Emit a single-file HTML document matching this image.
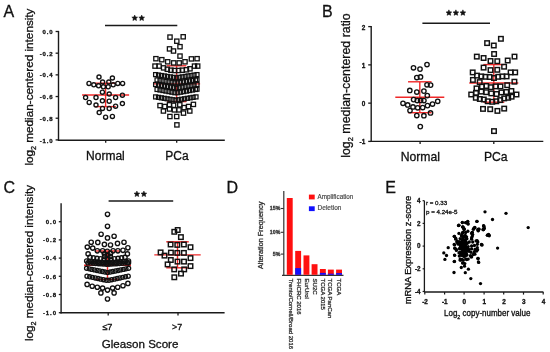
<!DOCTYPE html>
<html><head><meta charset="utf-8"><style>
html,body{margin:0;padding:0;background:#fff;}
svg{display:block;will-change:transform;filter:blur(0.3px);}
text{font-family:"Liberation Sans", sans-serif;}
</style></head><body>
<svg width="550" height="352" viewBox="0 0 550 352">
<rect width="550" height="352" fill="#fff"/>
<text x="3.40" y="16.60" font-size="16" text-anchor="start" font-weight="normal" fill="#111" stroke="#111" stroke-width="0.3">A</text>
<text x="322.00" y="16.60" font-size="16" text-anchor="start" font-weight="normal" fill="#111" stroke="#111" stroke-width="0.3">B</text>
<text x="3.60" y="192.50" font-size="16" text-anchor="start" font-weight="normal" fill="#111" stroke="#111" stroke-width="0.3">C</text>
<text x="226.60" y="192.50" font-size="16" text-anchor="start" font-weight="normal" fill="#111" stroke="#111" stroke-width="0.3">D</text>
<text x="385.20" y="192.50" font-size="16" text-anchor="start" font-weight="normal" fill="#111" stroke="#111" stroke-width="0.3">E</text>
<line x1="58.50" y1="30.90" x2="58.50" y2="140.80" stroke="#1a1a1a" stroke-width="1.4"/>
<line x1="57.90" y1="140.20" x2="224.80" y2="140.20" stroke="#1a1a1a" stroke-width="1.4"/>
<line x1="55.60" y1="31.50" x2="58.50" y2="31.50" stroke="#1a1a1a" stroke-width="1.3"/>
<text x="53.60" y="34.10" font-size="6" text-anchor="end" font-weight="bold" fill="#111" letter-spacing="0.9" stroke="#111" stroke-width="0.3">0.0</text>
<line x1="55.60" y1="53.18" x2="58.50" y2="53.18" stroke="#1a1a1a" stroke-width="1.3"/>
<text x="53.60" y="55.78" font-size="6" text-anchor="end" font-weight="bold" fill="#111" letter-spacing="0.9" stroke="#111" stroke-width="0.3">-0.2</text>
<line x1="55.60" y1="74.86" x2="58.50" y2="74.86" stroke="#1a1a1a" stroke-width="1.3"/>
<text x="53.60" y="77.46" font-size="6" text-anchor="end" font-weight="bold" fill="#111" letter-spacing="0.9" stroke="#111" stroke-width="0.3">-0.4</text>
<line x1="55.60" y1="96.54" x2="58.50" y2="96.54" stroke="#1a1a1a" stroke-width="1.3"/>
<text x="53.60" y="99.14" font-size="6" text-anchor="end" font-weight="bold" fill="#111" letter-spacing="0.9" stroke="#111" stroke-width="0.3">-0.6</text>
<line x1="55.60" y1="118.22" x2="58.50" y2="118.22" stroke="#1a1a1a" stroke-width="1.3"/>
<text x="53.60" y="120.82" font-size="6" text-anchor="end" font-weight="bold" fill="#111" letter-spacing="0.9" stroke="#111" stroke-width="0.3">-0.8</text>
<line x1="55.60" y1="139.90" x2="58.50" y2="139.90" stroke="#1a1a1a" stroke-width="1.3"/>
<text x="53.60" y="142.50" font-size="6" text-anchor="end" font-weight="bold" fill="#111" letter-spacing="0.9" stroke="#111" stroke-width="0.3">-1.0</text>
<line x1="105.70" y1="140.20" x2="105.70" y2="142.80" stroke="#1a1a1a" stroke-width="1.3"/>
<line x1="176.70" y1="140.20" x2="176.70" y2="142.80" stroke="#1a1a1a" stroke-width="1.3"/>
<text x="105.40" y="159.60" font-size="12" text-anchor="middle" font-weight="normal" fill="#111" stroke="#111" stroke-width="0.3">Normal</text>
<text x="176.90" y="159.60" font-size="12" text-anchor="middle" font-weight="normal" fill="#111" stroke="#111" stroke-width="0.3">PCa</text>
<line x1="105.00" y1="25.50" x2="177.30" y2="25.50" stroke="#1a1a1a" stroke-width="1.5"/>
<polygon points="134.70,15.05 135.58,16.89 137.60,17.16 136.13,18.56 136.49,20.57 134.70,19.60 132.91,20.57 133.27,18.56 131.80,17.16 133.82,16.89" fill="#111" stroke="#111" stroke-width="0.5" stroke-linejoin="round"/>
<polygon points="141.70,15.05 142.58,16.89 144.60,17.16 143.13,18.56 143.49,20.57 141.70,19.60 139.91,20.57 140.27,18.56 138.80,17.16 140.82,16.89" fill="#111" stroke="#111" stroke-width="0.5" stroke-linejoin="round"/>
<text x="33.0" y="165.6" font-size="11.72" transform="rotate(-90 33.0 165.6)" fill="#111" stroke="#111" stroke-width="0.3">log<tspan font-size="7.2" dy="2.9">2</tspan><tspan dy="-2.9"> median-centered intensity</tspan></text>
<line x1="82.10" y1="95.00" x2="129.10" y2="95.00" stroke="#f02828" stroke-width="1.4"/>
<line x1="105.60" y1="83.20" x2="105.60" y2="106.60" stroke="#f02828" stroke-width="1.4"/>
<line x1="95.35" y1="83.20" x2="115.85" y2="83.20" stroke="#f02828" stroke-width="1.4"/>
<line x1="95.35" y1="106.60" x2="115.85" y2="106.60" stroke="#f02828" stroke-width="1.4"/>
<circle cx="99.00" cy="77.00" r="2.05" fill="none" stroke="#111" stroke-width="1.35"/>
<circle cx="112.40" cy="78.00" r="2.05" fill="none" stroke="#111" stroke-width="1.35"/>
<circle cx="89.00" cy="83.40" r="2.05" fill="none" stroke="#111" stroke-width="1.35"/>
<circle cx="93.80" cy="84.80" r="2.05" fill="none" stroke="#111" stroke-width="1.35"/>
<circle cx="98.60" cy="85.80" r="2.05" fill="none" stroke="#111" stroke-width="1.35"/>
<circle cx="102.60" cy="82.00" r="2.05" fill="none" stroke="#111" stroke-width="1.35"/>
<circle cx="103.40" cy="86.80" r="2.05" fill="none" stroke="#111" stroke-width="1.35"/>
<circle cx="108.80" cy="82.00" r="2.05" fill="none" stroke="#111" stroke-width="1.35"/>
<circle cx="108.20" cy="86.80" r="2.05" fill="none" stroke="#111" stroke-width="1.35"/>
<circle cx="113.20" cy="84.80" r="2.05" fill="none" stroke="#111" stroke-width="1.35"/>
<circle cx="117.80" cy="83.40" r="2.05" fill="none" stroke="#111" stroke-width="1.35"/>
<circle cx="122.60" cy="83.40" r="2.05" fill="none" stroke="#111" stroke-width="1.35"/>
<circle cx="102.40" cy="92.20" r="2.05" fill="none" stroke="#111" stroke-width="1.35"/>
<circle cx="109.20" cy="94.00" r="2.05" fill="none" stroke="#111" stroke-width="1.35"/>
<circle cx="122.40" cy="95.20" r="2.05" fill="none" stroke="#111" stroke-width="1.35"/>
<circle cx="85.60" cy="97.60" r="2.05" fill="none" stroke="#111" stroke-width="1.35"/>
<circle cx="96.00" cy="97.60" r="2.05" fill="none" stroke="#111" stroke-width="1.35"/>
<circle cx="115.60" cy="97.60" r="2.05" fill="none" stroke="#111" stroke-width="1.35"/>
<circle cx="89.20" cy="102.40" r="2.05" fill="none" stroke="#111" stroke-width="1.35"/>
<circle cx="102.40" cy="100.80" r="2.05" fill="none" stroke="#111" stroke-width="1.35"/>
<circle cx="109.20" cy="101.20" r="2.05" fill="none" stroke="#111" stroke-width="1.35"/>
<circle cx="122.40" cy="103.60" r="2.05" fill="none" stroke="#111" stroke-width="1.35"/>
<circle cx="96.00" cy="105.00" r="2.05" fill="none" stroke="#111" stroke-width="1.35"/>
<circle cx="115.60" cy="106.20" r="2.05" fill="none" stroke="#111" stroke-width="1.35"/>
<circle cx="102.50" cy="108.40" r="2.05" fill="none" stroke="#111" stroke-width="1.35"/>
<circle cx="109.20" cy="108.60" r="2.05" fill="none" stroke="#111" stroke-width="1.35"/>
<circle cx="99.20" cy="112.60" r="2.05" fill="none" stroke="#111" stroke-width="1.35"/>
<circle cx="105.60" cy="117.20" r="2.05" fill="none" stroke="#111" stroke-width="1.35"/>
<circle cx="112.40" cy="116.40" r="2.05" fill="none" stroke="#111" stroke-width="1.35"/>
<line x1="153.10" y1="83.90" x2="200.10" y2="83.90" stroke="#f02828" stroke-width="1.4"/>
<line x1="176.60" y1="65.80" x2="176.60" y2="101.60" stroke="#f02828" stroke-width="1.4"/>
<line x1="166.85" y1="65.80" x2="186.35" y2="65.80" stroke="#f02828" stroke-width="1.4"/>
<line x1="166.85" y1="101.60" x2="186.35" y2="101.60" stroke="#f02828" stroke-width="1.4"/>
<rect x="167.88" y="34.97" width="4.25" height="4.25" fill="none" stroke="#111" stroke-width="1.3"/>
<rect x="181.07" y="34.67" width="4.25" height="4.25" fill="none" stroke="#111" stroke-width="1.3"/>
<rect x="174.68" y="39.07" width="4.25" height="4.25" fill="none" stroke="#111" stroke-width="1.3"/>
<rect x="177.88" y="44.57" width="4.25" height="4.25" fill="none" stroke="#111" stroke-width="1.3"/>
<rect x="167.38" y="46.77" width="4.25" height="4.25" fill="none" stroke="#111" stroke-width="1.3"/>
<rect x="171.38" y="48.88" width="4.25" height="4.25" fill="none" stroke="#111" stroke-width="1.3"/>
<rect x="177.88" y="53.97" width="4.25" height="4.25" fill="none" stroke="#111" stroke-width="1.3"/>
<rect x="153.78" y="56.57" width="4.25" height="4.25" fill="none" stroke="#111" stroke-width="1.3"/>
<rect x="159.68" y="57.57" width="4.25" height="4.25" fill="none" stroke="#111" stroke-width="1.3"/>
<rect x="189.28" y="56.77" width="4.25" height="4.25" fill="none" stroke="#111" stroke-width="1.3"/>
<rect x="194.97" y="56.57" width="4.25" height="4.25" fill="none" stroke="#111" stroke-width="1.3"/>
<rect x="165.57" y="59.67" width="4.25" height="4.25" fill="none" stroke="#111" stroke-width="1.3"/>
<rect x="171.57" y="60.77" width="4.25" height="4.25" fill="none" stroke="#111" stroke-width="1.3"/>
<rect x="177.07" y="60.77" width="4.25" height="4.25" fill="none" stroke="#111" stroke-width="1.3"/>
<rect x="182.88" y="59.67" width="4.25" height="4.25" fill="none" stroke="#111" stroke-width="1.3"/>
<rect x="152.88" y="63.97" width="4.25" height="4.25" fill="none" stroke="#111" stroke-width="1.3"/>
<rect x="156.97" y="63.97" width="4.25" height="4.25" fill="none" stroke="#111" stroke-width="1.3"/>
<rect x="161.47" y="65.77" width="4.25" height="4.25" fill="none" stroke="#111" stroke-width="1.3"/>
<rect x="165.18" y="67.17" width="4.25" height="4.25" fill="none" stroke="#111" stroke-width="1.3"/>
<rect x="168.78" y="68.08" width="4.25" height="4.25" fill="none" stroke="#111" stroke-width="1.3"/>
<rect x="172.38" y="68.38" width="4.25" height="4.25" fill="none" stroke="#111" stroke-width="1.3"/>
<rect x="176.47" y="68.38" width="4.25" height="4.25" fill="none" stroke="#111" stroke-width="1.3"/>
<rect x="180.18" y="68.08" width="4.25" height="4.25" fill="none" stroke="#111" stroke-width="1.3"/>
<rect x="184.28" y="67.67" width="4.25" height="4.25" fill="none" stroke="#111" stroke-width="1.3"/>
<rect x="187.88" y="66.67" width="4.25" height="4.25" fill="none" stroke="#111" stroke-width="1.3"/>
<rect x="192.38" y="63.97" width="4.25" height="4.25" fill="none" stroke="#111" stroke-width="1.3"/>
<rect x="195.57" y="63.97" width="4.25" height="4.25" fill="none" stroke="#111" stroke-width="1.3"/>
<rect x="157.88" y="103.47" width="4.25" height="4.25" fill="none" stroke="#111" stroke-width="1.3"/>
<rect x="162.68" y="104.38" width="4.25" height="4.25" fill="none" stroke="#111" stroke-width="1.3"/>
<rect x="167.38" y="102.67" width="4.25" height="4.25" fill="none" stroke="#111" stroke-width="1.3"/>
<rect x="171.47" y="103.17" width="4.25" height="4.25" fill="none" stroke="#111" stroke-width="1.3"/>
<rect x="177.68" y="102.67" width="4.25" height="4.25" fill="none" stroke="#111" stroke-width="1.3"/>
<rect x="181.97" y="105.47" width="4.25" height="4.25" fill="none" stroke="#111" stroke-width="1.3"/>
<rect x="186.47" y="104.38" width="4.25" height="4.25" fill="none" stroke="#111" stroke-width="1.3"/>
<rect x="191.28" y="102.27" width="4.25" height="4.25" fill="none" stroke="#111" stroke-width="1.3"/>
<rect x="161.28" y="108.88" width="4.25" height="4.25" fill="none" stroke="#111" stroke-width="1.3"/>
<rect x="167.38" y="106.88" width="4.25" height="4.25" fill="none" stroke="#111" stroke-width="1.3"/>
<rect x="172.28" y="107.77" width="4.25" height="4.25" fill="none" stroke="#111" stroke-width="1.3"/>
<rect x="176.88" y="107.77" width="4.25" height="4.25" fill="none" stroke="#111" stroke-width="1.3"/>
<rect x="181.38" y="110.97" width="4.25" height="4.25" fill="none" stroke="#111" stroke-width="1.3"/>
<rect x="187.68" y="108.88" width="4.25" height="4.25" fill="none" stroke="#111" stroke-width="1.3"/>
<rect x="167.78" y="114.38" width="4.25" height="4.25" fill="none" stroke="#111" stroke-width="1.3"/>
<rect x="174.57" y="114.38" width="4.25" height="4.25" fill="none" stroke="#111" stroke-width="1.3"/>
<rect x="174.78" y="122.77" width="4.25" height="4.25" fill="none" stroke="#111" stroke-width="1.3"/>
<rect x="153.60" y="72.60" width="4.0" height="4.0" fill="none" stroke="#111" stroke-width="1.25"/>
<rect x="156.56" y="73.06" width="4.0" height="4.0" fill="none" stroke="#111" stroke-width="1.25"/>
<rect x="159.51" y="73.51" width="4.0" height="4.0" fill="none" stroke="#111" stroke-width="1.25"/>
<rect x="162.47" y="73.97" width="4.0" height="4.0" fill="none" stroke="#111" stroke-width="1.25"/>
<rect x="165.43" y="74.43" width="4.0" height="4.0" fill="none" stroke="#111" stroke-width="1.25"/>
<rect x="168.39" y="74.89" width="4.0" height="4.0" fill="none" stroke="#111" stroke-width="1.25"/>
<rect x="171.34" y="75.34" width="4.0" height="4.0" fill="none" stroke="#111" stroke-width="1.25"/>
<rect x="174.30" y="75.80" width="4.0" height="4.0" fill="none" stroke="#111" stroke-width="1.25"/>
<rect x="177.26" y="75.34" width="4.0" height="4.0" fill="none" stroke="#111" stroke-width="1.25"/>
<rect x="180.21" y="74.89" width="4.0" height="4.0" fill="none" stroke="#111" stroke-width="1.25"/>
<rect x="183.17" y="74.43" width="4.0" height="4.0" fill="none" stroke="#111" stroke-width="1.25"/>
<rect x="186.13" y="73.97" width="4.0" height="4.0" fill="none" stroke="#111" stroke-width="1.25"/>
<rect x="189.09" y="73.51" width="4.0" height="4.0" fill="none" stroke="#111" stroke-width="1.25"/>
<rect x="192.04" y="73.06" width="4.0" height="4.0" fill="none" stroke="#111" stroke-width="1.25"/>
<rect x="195.00" y="72.60" width="4.0" height="4.0" fill="none" stroke="#111" stroke-width="1.25"/>
<rect x="155.05" y="77.93" width="4.0" height="4.0" fill="none" stroke="#111" stroke-width="1.25"/>
<rect x="158.01" y="78.40" width="4.0" height="4.0" fill="none" stroke="#111" stroke-width="1.25"/>
<rect x="160.96" y="78.87" width="4.0" height="4.0" fill="none" stroke="#111" stroke-width="1.25"/>
<rect x="163.92" y="79.35" width="4.0" height="4.0" fill="none" stroke="#111" stroke-width="1.25"/>
<rect x="166.88" y="79.82" width="4.0" height="4.0" fill="none" stroke="#111" stroke-width="1.25"/>
<rect x="169.84" y="80.29" width="4.0" height="4.0" fill="none" stroke="#111" stroke-width="1.25"/>
<rect x="172.79" y="80.76" width="4.0" height="4.0" fill="none" stroke="#111" stroke-width="1.25"/>
<rect x="175.75" y="80.77" width="4.0" height="4.0" fill="none" stroke="#111" stroke-width="1.25"/>
<rect x="178.71" y="80.30" width="4.0" height="4.0" fill="none" stroke="#111" stroke-width="1.25"/>
<rect x="181.66" y="79.83" width="4.0" height="4.0" fill="none" stroke="#111" stroke-width="1.25"/>
<rect x="184.62" y="79.35" width="4.0" height="4.0" fill="none" stroke="#111" stroke-width="1.25"/>
<rect x="187.58" y="78.88" width="4.0" height="4.0" fill="none" stroke="#111" stroke-width="1.25"/>
<rect x="190.54" y="78.41" width="4.0" height="4.0" fill="none" stroke="#111" stroke-width="1.25"/>
<rect x="193.49" y="77.94" width="4.0" height="4.0" fill="none" stroke="#111" stroke-width="1.25"/>
<rect x="195.00" y="77.70" width="4.0" height="4.0" fill="none" stroke="#111" stroke-width="1.25"/>
<rect x="153.60" y="82.50" width="4.0" height="4.0" fill="none" stroke="#111" stroke-width="1.25"/>
<rect x="156.56" y="83.03" width="4.0" height="4.0" fill="none" stroke="#111" stroke-width="1.25"/>
<rect x="159.51" y="83.56" width="4.0" height="4.0" fill="none" stroke="#111" stroke-width="1.25"/>
<rect x="162.47" y="84.09" width="4.0" height="4.0" fill="none" stroke="#111" stroke-width="1.25"/>
<rect x="165.43" y="84.61" width="4.0" height="4.0" fill="none" stroke="#111" stroke-width="1.25"/>
<rect x="168.39" y="85.14" width="4.0" height="4.0" fill="none" stroke="#111" stroke-width="1.25"/>
<rect x="171.34" y="85.67" width="4.0" height="4.0" fill="none" stroke="#111" stroke-width="1.25"/>
<rect x="174.30" y="86.20" width="4.0" height="4.0" fill="none" stroke="#111" stroke-width="1.25"/>
<rect x="177.26" y="85.67" width="4.0" height="4.0" fill="none" stroke="#111" stroke-width="1.25"/>
<rect x="180.21" y="85.14" width="4.0" height="4.0" fill="none" stroke="#111" stroke-width="1.25"/>
<rect x="183.17" y="84.61" width="4.0" height="4.0" fill="none" stroke="#111" stroke-width="1.25"/>
<rect x="186.13" y="84.09" width="4.0" height="4.0" fill="none" stroke="#111" stroke-width="1.25"/>
<rect x="189.09" y="83.56" width="4.0" height="4.0" fill="none" stroke="#111" stroke-width="1.25"/>
<rect x="192.04" y="83.03" width="4.0" height="4.0" fill="none" stroke="#111" stroke-width="1.25"/>
<rect x="195.00" y="82.50" width="4.0" height="4.0" fill="none" stroke="#111" stroke-width="1.25"/>
<rect x="155.05" y="87.47" width="4.0" height="4.0" fill="none" stroke="#111" stroke-width="1.25"/>
<rect x="158.01" y="88.01" width="4.0" height="4.0" fill="none" stroke="#111" stroke-width="1.25"/>
<rect x="160.96" y="88.55" width="4.0" height="4.0" fill="none" stroke="#111" stroke-width="1.25"/>
<rect x="163.92" y="89.09" width="4.0" height="4.0" fill="none" stroke="#111" stroke-width="1.25"/>
<rect x="166.88" y="89.64" width="4.0" height="4.0" fill="none" stroke="#111" stroke-width="1.25"/>
<rect x="169.84" y="90.18" width="4.0" height="4.0" fill="none" stroke="#111" stroke-width="1.25"/>
<rect x="172.79" y="90.72" width="4.0" height="4.0" fill="none" stroke="#111" stroke-width="1.25"/>
<rect x="175.75" y="90.73" width="4.0" height="4.0" fill="none" stroke="#111" stroke-width="1.25"/>
<rect x="178.71" y="90.19" width="4.0" height="4.0" fill="none" stroke="#111" stroke-width="1.25"/>
<rect x="181.66" y="89.65" width="4.0" height="4.0" fill="none" stroke="#111" stroke-width="1.25"/>
<rect x="184.62" y="89.11" width="4.0" height="4.0" fill="none" stroke="#111" stroke-width="1.25"/>
<rect x="187.58" y="88.56" width="4.0" height="4.0" fill="none" stroke="#111" stroke-width="1.25"/>
<rect x="190.54" y="88.02" width="4.0" height="4.0" fill="none" stroke="#111" stroke-width="1.25"/>
<rect x="193.49" y="87.48" width="4.0" height="4.0" fill="none" stroke="#111" stroke-width="1.25"/>
<rect x="195.00" y="87.20" width="4.0" height="4.0" fill="none" stroke="#111" stroke-width="1.25"/>
<rect x="153.60" y="94.90" width="4.0" height="4.0" fill="none" stroke="#111" stroke-width="1.25"/>
<rect x="156.49" y="95.37" width="4.0" height="4.0" fill="none" stroke="#111" stroke-width="1.25"/>
<rect x="159.37" y="95.84" width="4.0" height="4.0" fill="none" stroke="#111" stroke-width="1.25"/>
<rect x="162.26" y="96.31" width="4.0" height="4.0" fill="none" stroke="#111" stroke-width="1.25"/>
<rect x="165.14" y="96.79" width="4.0" height="4.0" fill="none" stroke="#111" stroke-width="1.25"/>
<rect x="168.03" y="97.26" width="4.0" height="4.0" fill="none" stroke="#111" stroke-width="1.25"/>
<rect x="170.91" y="97.73" width="4.0" height="4.0" fill="none" stroke="#111" stroke-width="1.25"/>
<rect x="173.80" y="98.20" width="4.0" height="4.0" fill="none" stroke="#111" stroke-width="1.25"/>
<rect x="176.69" y="97.73" width="4.0" height="4.0" fill="none" stroke="#111" stroke-width="1.25"/>
<rect x="179.57" y="97.26" width="4.0" height="4.0" fill="none" stroke="#111" stroke-width="1.25"/>
<rect x="182.46" y="96.79" width="4.0" height="4.0" fill="none" stroke="#111" stroke-width="1.25"/>
<rect x="185.34" y="96.31" width="4.0" height="4.0" fill="none" stroke="#111" stroke-width="1.25"/>
<rect x="188.23" y="95.84" width="4.0" height="4.0" fill="none" stroke="#111" stroke-width="1.25"/>
<rect x="191.11" y="95.37" width="4.0" height="4.0" fill="none" stroke="#111" stroke-width="1.25"/>
<rect x="194.00" y="94.90" width="4.0" height="4.0" fill="none" stroke="#111" stroke-width="1.25"/>
<line x1="371.20" y1="26.00" x2="371.20" y2="142.00" stroke="#1a1a1a" stroke-width="1.4"/>
<line x1="370.60" y1="141.40" x2="543.30" y2="141.40" stroke="#1a1a1a" stroke-width="1.4"/>
<line x1="368.20" y1="26.60" x2="371.20" y2="26.60" stroke="#1a1a1a" stroke-width="1.3"/>
<text x="365.20" y="29.50" font-size="6.4" text-anchor="end" font-weight="bold" fill="#111" stroke="#111" stroke-width="0.3">2</text>
<line x1="368.20" y1="64.87" x2="371.20" y2="64.87" stroke="#1a1a1a" stroke-width="1.3"/>
<text x="365.20" y="67.77" font-size="6.4" text-anchor="end" font-weight="bold" fill="#111" stroke="#111" stroke-width="0.3">1</text>
<line x1="368.20" y1="103.14" x2="371.20" y2="103.14" stroke="#1a1a1a" stroke-width="1.3"/>
<text x="365.20" y="106.04" font-size="6.4" text-anchor="end" font-weight="bold" fill="#111" stroke="#111" stroke-width="0.3">0</text>
<line x1="368.20" y1="141.41" x2="371.20" y2="141.41" stroke="#1a1a1a" stroke-width="1.3"/>
<text x="365.20" y="144.31" font-size="6.4" text-anchor="end" font-weight="bold" fill="#111" stroke="#111" stroke-width="0.3">-1</text>
<line x1="420.10" y1="141.40" x2="420.10" y2="144.00" stroke="#1a1a1a" stroke-width="1.3"/>
<line x1="493.80" y1="141.40" x2="493.80" y2="144.00" stroke="#1a1a1a" stroke-width="1.3"/>
<text x="420.30" y="160.80" font-size="12.2" text-anchor="middle" font-weight="normal" fill="#111" stroke="#111" stroke-width="0.3">Normal</text>
<text x="495.80" y="160.80" font-size="12.2" text-anchor="middle" font-weight="normal" fill="#111" stroke="#111" stroke-width="0.3">PCa</text>
<line x1="422.40" y1="23.30" x2="490.00" y2="23.30" stroke="#1a1a1a" stroke-width="1.5"/>
<polygon points="448.90,9.85 449.78,11.69 451.80,11.96 450.33,13.36 450.69,15.37 448.90,14.40 447.11,15.37 447.47,13.36 446.00,11.96 448.02,11.69" fill="#111" stroke="#111" stroke-width="0.5" stroke-linejoin="round"/>
<polygon points="455.90,9.85 456.78,11.69 458.80,11.96 457.33,13.36 457.69,15.37 455.90,14.40 454.11,15.37 454.47,13.36 453.00,11.96 455.02,11.69" fill="#111" stroke="#111" stroke-width="0.5" stroke-linejoin="round"/>
<polygon points="462.90,9.85 463.78,11.69 465.80,11.96 464.33,13.36 464.69,15.37 462.90,14.40 461.11,15.37 461.47,13.36 460.00,11.96 462.02,11.69" fill="#111" stroke="#111" stroke-width="0.5" stroke-linejoin="round"/>
<text x="349.8" y="157.8" font-size="12.38" transform="rotate(-90 349.8 157.8)" fill="#111" stroke="#111" stroke-width="0.3">log<tspan font-size="7.5" dy="3.0">2</tspan><tspan dy="-3.0"> median-centered ratio</tspan></text>
<line x1="395.30" y1="97.20" x2="444.30" y2="97.20" stroke="#f02828" stroke-width="1.4"/>
<line x1="419.80" y1="81.80" x2="419.80" y2="112.70" stroke="#f02828" stroke-width="1.4"/>
<line x1="408.05" y1="81.80" x2="431.55" y2="81.80" stroke="#f02828" stroke-width="1.4"/>
<line x1="408.05" y1="112.70" x2="431.55" y2="112.70" stroke="#f02828" stroke-width="1.4"/>
<circle cx="427.00" cy="64.50" r="2.2" fill="none" stroke="#111" stroke-width="1.35"/>
<circle cx="413.50" cy="67.80" r="2.2" fill="none" stroke="#111" stroke-width="1.35"/>
<circle cx="420.00" cy="69.10" r="2.2" fill="none" stroke="#111" stroke-width="1.35"/>
<circle cx="416.80" cy="77.50" r="2.2" fill="none" stroke="#111" stroke-width="1.35"/>
<circle cx="420.50" cy="76.90" r="2.2" fill="none" stroke="#111" stroke-width="1.35"/>
<circle cx="427.00" cy="84.80" r="2.2" fill="none" stroke="#111" stroke-width="1.35"/>
<circle cx="430.60" cy="85.10" r="2.2" fill="none" stroke="#111" stroke-width="1.35"/>
<circle cx="409.80" cy="90.40" r="2.2" fill="none" stroke="#111" stroke-width="1.35"/>
<circle cx="416.80" cy="92.00" r="2.2" fill="none" stroke="#111" stroke-width="1.35"/>
<circle cx="423.90" cy="91.10" r="2.2" fill="none" stroke="#111" stroke-width="1.35"/>
<circle cx="427.30" cy="95.60" r="2.2" fill="none" stroke="#111" stroke-width="1.35"/>
<circle cx="413.60" cy="99.60" r="2.2" fill="none" stroke="#111" stroke-width="1.35"/>
<circle cx="417.30" cy="100.50" r="2.2" fill="none" stroke="#111" stroke-width="1.35"/>
<circle cx="420.60" cy="100.40" r="2.2" fill="none" stroke="#111" stroke-width="1.35"/>
<circle cx="423.90" cy="100.50" r="2.2" fill="none" stroke="#111" stroke-width="1.35"/>
<circle cx="437.70" cy="101.30" r="2.2" fill="none" stroke="#111" stroke-width="1.35"/>
<circle cx="403.00" cy="103.30" r="2.2" fill="none" stroke="#111" stroke-width="1.35"/>
<circle cx="407.70" cy="104.90" r="2.2" fill="none" stroke="#111" stroke-width="1.35"/>
<circle cx="413.00" cy="106.90" r="2.2" fill="none" stroke="#111" stroke-width="1.35"/>
<circle cx="417.70" cy="107.80" r="2.2" fill="none" stroke="#111" stroke-width="1.35"/>
<circle cx="422.70" cy="107.50" r="2.2" fill="none" stroke="#111" stroke-width="1.35"/>
<circle cx="427.50" cy="105.60" r="2.2" fill="none" stroke="#111" stroke-width="1.35"/>
<circle cx="432.50" cy="104.00" r="2.2" fill="none" stroke="#111" stroke-width="1.35"/>
<circle cx="410.00" cy="110.50" r="2.2" fill="none" stroke="#111" stroke-width="1.35"/>
<circle cx="430.50" cy="112.90" r="2.2" fill="none" stroke="#111" stroke-width="1.35"/>
<circle cx="416.80" cy="115.50" r="2.2" fill="none" stroke="#111" stroke-width="1.35"/>
<circle cx="423.90" cy="115.70" r="2.2" fill="none" stroke="#111" stroke-width="1.35"/>
<circle cx="420.30" cy="126.60" r="2.2" fill="none" stroke="#111" stroke-width="1.35"/>
<line x1="469.30" y1="83.00" x2="518.30" y2="83.00" stroke="#f02828" stroke-width="1.4"/>
<line x1="493.80" y1="64.60" x2="493.80" y2="102.20" stroke="#f02828" stroke-width="1.4"/>
<line x1="483.30" y1="64.60" x2="504.30" y2="64.60" stroke="#f02828" stroke-width="1.4"/>
<line x1="483.30" y1="102.20" x2="504.30" y2="102.20" stroke="#f02828" stroke-width="1.4"/>
<rect x="498.65" y="36.55" width="4.5" height="4.5" fill="none" stroke="#111" stroke-width="1.45"/>
<rect x="484.85" y="40.85" width="4.5" height="4.5" fill="none" stroke="#111" stroke-width="1.45"/>
<rect x="491.55" y="43.25" width="4.5" height="4.5" fill="none" stroke="#111" stroke-width="1.45"/>
<rect x="491.85" y="51.75" width="4.5" height="4.5" fill="none" stroke="#111" stroke-width="1.45"/>
<rect x="474.55" y="54.35" width="4.5" height="4.5" fill="none" stroke="#111" stroke-width="1.45"/>
<rect x="481.35" y="55.75" width="4.5" height="4.5" fill="none" stroke="#111" stroke-width="1.45"/>
<rect x="488.25" y="58.75" width="4.5" height="4.5" fill="none" stroke="#111" stroke-width="1.45"/>
<rect x="495.05" y="58.95" width="4.5" height="4.5" fill="none" stroke="#111" stroke-width="1.45"/>
<rect x="505.45" y="58.25" width="4.5" height="4.5" fill="none" stroke="#111" stroke-width="1.45"/>
<rect x="512.25" y="54.35" width="4.5" height="4.5" fill="none" stroke="#111" stroke-width="1.45"/>
<rect x="481.35" y="65.35" width="4.5" height="4.5" fill="none" stroke="#111" stroke-width="1.45"/>
<rect x="501.85" y="64.45" width="4.5" height="4.5" fill="none" stroke="#111" stroke-width="1.45"/>
<rect x="488.25" y="67.85" width="4.5" height="4.5" fill="none" stroke="#111" stroke-width="1.45"/>
<rect x="495.05" y="67.55" width="4.5" height="4.5" fill="none" stroke="#111" stroke-width="1.45"/>
<rect x="470.45" y="70.15" width="4.5" height="4.5" fill="none" stroke="#111" stroke-width="1.45"/>
<rect x="508.35" y="70.15" width="4.5" height="4.5" fill="none" stroke="#111" stroke-width="1.45"/>
<rect x="512.95" y="70.15" width="4.5" height="4.5" fill="none" stroke="#111" stroke-width="1.45"/>
<rect x="474.75" y="73.35" width="4.5" height="4.5" fill="none" stroke="#111" stroke-width="1.45"/>
<rect x="479.05" y="74.15" width="4.5" height="4.5" fill="none" stroke="#111" stroke-width="1.45"/>
<rect x="483.15" y="74.55" width="4.5" height="4.5" fill="none" stroke="#111" stroke-width="1.45"/>
<rect x="487.35" y="74.75" width="4.5" height="4.5" fill="none" stroke="#111" stroke-width="1.45"/>
<rect x="491.75" y="75.75" width="4.5" height="4.5" fill="none" stroke="#111" stroke-width="1.45"/>
<rect x="495.95" y="74.55" width="4.5" height="4.5" fill="none" stroke="#111" stroke-width="1.45"/>
<rect x="500.15" y="74.15" width="4.5" height="4.5" fill="none" stroke="#111" stroke-width="1.45"/>
<rect x="504.35" y="74.15" width="4.5" height="4.5" fill="none" stroke="#111" stroke-width="1.45"/>
<rect x="470.65" y="77.65" width="4.5" height="4.5" fill="none" stroke="#111" stroke-width="1.45"/>
<rect x="477.45" y="79.85" width="4.5" height="4.5" fill="none" stroke="#111" stroke-width="1.45"/>
<rect x="512.15" y="79.45" width="4.5" height="4.5" fill="none" stroke="#111" stroke-width="1.45"/>
<rect x="474.25" y="86.15" width="4.5" height="4.5" fill="none" stroke="#111" stroke-width="1.45"/>
<rect x="479.75" y="84.35" width="4.5" height="4.5" fill="none" stroke="#111" stroke-width="1.45"/>
<rect x="484.05" y="83.75" width="4.5" height="4.5" fill="none" stroke="#111" stroke-width="1.45"/>
<rect x="488.55" y="84.95" width="4.5" height="4.5" fill="none" stroke="#111" stroke-width="1.45"/>
<rect x="493.35" y="84.15" width="4.5" height="4.5" fill="none" stroke="#111" stroke-width="1.45"/>
<rect x="498.25" y="84.15" width="4.5" height="4.5" fill="none" stroke="#111" stroke-width="1.45"/>
<rect x="504.95" y="82.95" width="4.5" height="4.5" fill="none" stroke="#111" stroke-width="1.45"/>
<rect x="468.95" y="92.25" width="4.5" height="4.5" fill="none" stroke="#111" stroke-width="1.45"/>
<rect x="473.75" y="90.55" width="4.5" height="4.5" fill="none" stroke="#111" stroke-width="1.45"/>
<rect x="479.05" y="89.35" width="4.5" height="4.5" fill="none" stroke="#111" stroke-width="1.45"/>
<rect x="483.95" y="89.95" width="4.5" height="4.5" fill="none" stroke="#111" stroke-width="1.45"/>
<rect x="489.05" y="91.15" width="4.5" height="4.5" fill="none" stroke="#111" stroke-width="1.45"/>
<rect x="494.35" y="91.75" width="4.5" height="4.5" fill="none" stroke="#111" stroke-width="1.45"/>
<rect x="499.15" y="90.15" width="4.5" height="4.5" fill="none" stroke="#111" stroke-width="1.45"/>
<rect x="504.05" y="89.75" width="4.5" height="4.5" fill="none" stroke="#111" stroke-width="1.45"/>
<rect x="509.15" y="88.75" width="4.5" height="4.5" fill="none" stroke="#111" stroke-width="1.45"/>
<rect x="514.25" y="92.25" width="4.5" height="4.5" fill="none" stroke="#111" stroke-width="1.45"/>
<rect x="473.55" y="95.55" width="4.5" height="4.5" fill="none" stroke="#111" stroke-width="1.45"/>
<rect x="477.55" y="96.75" width="4.5" height="4.5" fill="none" stroke="#111" stroke-width="1.45"/>
<rect x="481.55" y="97.25" width="4.5" height="4.5" fill="none" stroke="#111" stroke-width="1.45"/>
<rect x="485.45" y="99.05" width="4.5" height="4.5" fill="none" stroke="#111" stroke-width="1.45"/>
<rect x="490.05" y="99.55" width="4.5" height="4.5" fill="none" stroke="#111" stroke-width="1.45"/>
<rect x="494.05" y="99.05" width="4.5" height="4.5" fill="none" stroke="#111" stroke-width="1.45"/>
<rect x="497.95" y="97.85" width="4.5" height="4.5" fill="none" stroke="#111" stroke-width="1.45"/>
<rect x="501.95" y="96.15" width="4.5" height="4.5" fill="none" stroke="#111" stroke-width="1.45"/>
<rect x="505.95" y="95.55" width="4.5" height="4.5" fill="none" stroke="#111" stroke-width="1.45"/>
<rect x="509.35" y="94.45" width="4.5" height="4.5" fill="none" stroke="#111" stroke-width="1.45"/>
<rect x="480.75" y="106.65" width="4.5" height="4.5" fill="none" stroke="#111" stroke-width="1.45"/>
<rect x="487.95" y="106.95" width="4.5" height="4.5" fill="none" stroke="#111" stroke-width="1.45"/>
<rect x="495.15" y="108.65" width="4.5" height="4.5" fill="none" stroke="#111" stroke-width="1.45"/>
<rect x="501.95" y="106.35" width="4.5" height="4.5" fill="none" stroke="#111" stroke-width="1.45"/>
<rect x="491.75" y="128.85" width="4.5" height="4.5" fill="none" stroke="#111" stroke-width="1.45"/>
<line x1="61.10" y1="203.20" x2="61.10" y2="313.40" stroke="#1a1a1a" stroke-width="1.4"/>
<line x1="60.50" y1="312.80" x2="224.60" y2="312.80" stroke="#1a1a1a" stroke-width="1.4"/>
<line x1="58.80" y1="221.70" x2="61.10" y2="221.70" stroke="#1a1a1a" stroke-width="1.3"/>
<text x="56.90" y="224.00" font-size="6" text-anchor="end" font-weight="bold" fill="#111" letter-spacing="0.9" stroke="#111" stroke-width="0.3">0.0</text>
<line x1="58.80" y1="239.90" x2="61.10" y2="239.90" stroke="#1a1a1a" stroke-width="1.3"/>
<text x="56.90" y="242.20" font-size="6" text-anchor="end" font-weight="bold" fill="#111" letter-spacing="0.9" stroke="#111" stroke-width="0.3">-0.2</text>
<line x1="58.80" y1="258.10" x2="61.10" y2="258.10" stroke="#1a1a1a" stroke-width="1.3"/>
<text x="56.90" y="260.40" font-size="6" text-anchor="end" font-weight="bold" fill="#111" letter-spacing="0.9" stroke="#111" stroke-width="0.3">-0.4</text>
<line x1="58.80" y1="276.30" x2="61.10" y2="276.30" stroke="#1a1a1a" stroke-width="1.3"/>
<text x="56.90" y="278.60" font-size="6" text-anchor="end" font-weight="bold" fill="#111" letter-spacing="0.9" stroke="#111" stroke-width="0.3">-0.6</text>
<line x1="58.80" y1="294.50" x2="61.10" y2="294.50" stroke="#1a1a1a" stroke-width="1.3"/>
<text x="56.90" y="296.80" font-size="6" text-anchor="end" font-weight="bold" fill="#111" letter-spacing="0.9" stroke="#111" stroke-width="0.3">-0.8</text>
<line x1="58.80" y1="312.70" x2="61.10" y2="312.70" stroke="#1a1a1a" stroke-width="1.3"/>
<text x="56.90" y="315.00" font-size="6" text-anchor="end" font-weight="bold" fill="#111" letter-spacing="0.9" stroke="#111" stroke-width="0.3">-1.0</text>
<line x1="108.20" y1="312.80" x2="108.20" y2="315.40" stroke="#1a1a1a" stroke-width="1.3"/>
<line x1="178.00" y1="312.80" x2="178.00" y2="315.40" stroke="#1a1a1a" stroke-width="1.3"/>
<text x="107.30" y="329.80" font-size="9.2" text-anchor="middle" font-weight="normal" fill="#111" stroke="#111" stroke-width="0.3">≤7</text>
<text x="177.10" y="329.80" font-size="8.9" text-anchor="middle" font-weight="normal" fill="#111" stroke="#111" stroke-width="0.3">&gt;7</text>
<text x="140.10" y="348.30" font-size="11.6" text-anchor="middle" font-weight="normal" fill="#111" stroke="#111" stroke-width="0.3">Gleason Score</text>
<line x1="108.60" y1="201.00" x2="173.20" y2="201.00" stroke="#1a1a1a" stroke-width="1.5"/>
<polygon points="136.90,191.05 137.78,192.89 139.80,193.16 138.33,194.56 138.69,196.57 136.90,195.60 135.11,196.57 135.47,194.56 134.00,193.16 136.02,192.89" fill="#111" stroke="#111" stroke-width="0.5" stroke-linejoin="round"/>
<polygon points="143.90,191.05 144.78,192.89 146.80,193.16 145.33,194.56 145.69,196.57 143.90,195.60 142.11,196.57 142.47,194.56 141.00,193.16 143.02,192.89" fill="#111" stroke="#111" stroke-width="0.5" stroke-linejoin="round"/>
<text x="32.9" y="341.0" font-size="11.65" transform="rotate(-90 32.9 341.0)" fill="#111" stroke="#111" stroke-width="0.3">log<tspan font-size="7.2" dy="2.9">2</tspan><tspan dy="-2.9"> median-centered intensity</tspan></text>
<line x1="84.00" y1="265.30" x2="131.00" y2="265.30" stroke="#f02828" stroke-width="1.4"/>
<line x1="107.50" y1="251.00" x2="107.50" y2="279.40" stroke="#f02828" stroke-width="1.4"/>
<line x1="95.50" y1="251.00" x2="119.50" y2="251.00" stroke="#f02828" stroke-width="1.4"/>
<line x1="95.50" y1="279.40" x2="119.50" y2="279.40" stroke="#f02828" stroke-width="1.4"/>
<circle cx="107.50" cy="214.30" r="2.15" fill="none" stroke="#111" stroke-width="1.35"/>
<circle cx="107.50" cy="226.30" r="2.15" fill="none" stroke="#111" stroke-width="1.35"/>
<circle cx="101.10" cy="234.20" r="2.15" fill="none" stroke="#111" stroke-width="1.35"/>
<circle cx="114.10" cy="236.20" r="2.15" fill="none" stroke="#111" stroke-width="1.35"/>
<circle cx="107.50" cy="237.90" r="2.15" fill="none" stroke="#111" stroke-width="1.35"/>
<circle cx="91.20" cy="242.20" r="2.15" fill="none" stroke="#111" stroke-width="1.35"/>
<circle cx="97.80" cy="242.40" r="2.15" fill="none" stroke="#111" stroke-width="1.35"/>
<circle cx="104.40" cy="244.40" r="2.15" fill="none" stroke="#111" stroke-width="1.35"/>
<circle cx="110.50" cy="245.00" r="2.15" fill="none" stroke="#111" stroke-width="1.35"/>
<circle cx="117.50" cy="243.40" r="2.15" fill="none" stroke="#111" stroke-width="1.35"/>
<circle cx="124.00" cy="242.20" r="2.15" fill="none" stroke="#111" stroke-width="1.35"/>
<circle cx="87.30" cy="247.10" r="2.15" fill="none" stroke="#111" stroke-width="1.35"/>
<circle cx="92.70" cy="248.10" r="2.15" fill="none" stroke="#111" stroke-width="1.35"/>
<circle cx="97.30" cy="250.80" r="2.15" fill="none" stroke="#111" stroke-width="1.35"/>
<circle cx="102.60" cy="250.80" r="2.15" fill="none" stroke="#111" stroke-width="1.35"/>
<circle cx="107.30" cy="251.30" r="2.15" fill="none" stroke="#111" stroke-width="1.35"/>
<circle cx="113.10" cy="250.80" r="2.15" fill="none" stroke="#111" stroke-width="1.35"/>
<circle cx="117.90" cy="250.80" r="2.15" fill="none" stroke="#111" stroke-width="1.35"/>
<circle cx="123.00" cy="250.30" r="2.15" fill="none" stroke="#111" stroke-width="1.35"/>
<circle cx="127.90" cy="247.80" r="2.15" fill="none" stroke="#111" stroke-width="1.35"/>
<circle cx="88.10" cy="253.90" r="2.15" fill="none" stroke="#111" stroke-width="1.35"/>
<circle cx="104.40" cy="253.90" r="2.15" fill="none" stroke="#111" stroke-width="1.35"/>
<circle cx="110.50" cy="253.40" r="2.15" fill="none" stroke="#111" stroke-width="1.35"/>
<circle cx="127.40" cy="253.90" r="2.15" fill="none" stroke="#111" stroke-width="1.35"/>
<circle cx="90.00" cy="257.40" r="2.15" fill="none" stroke="#111" stroke-width="1.35"/>
<circle cx="93.50" cy="257.88" r="2.15" fill="none" stroke="#111" stroke-width="1.35"/>
<circle cx="97.00" cy="258.36" r="2.15" fill="none" stroke="#111" stroke-width="1.35"/>
<circle cx="100.50" cy="258.84" r="2.15" fill="none" stroke="#111" stroke-width="1.35"/>
<circle cx="104.00" cy="259.32" r="2.15" fill="none" stroke="#111" stroke-width="1.35"/>
<circle cx="107.50" cy="259.80" r="2.15" fill="none" stroke="#111" stroke-width="1.35"/>
<circle cx="111.00" cy="259.32" r="2.15" fill="none" stroke="#111" stroke-width="1.35"/>
<circle cx="114.50" cy="258.84" r="2.15" fill="none" stroke="#111" stroke-width="1.35"/>
<circle cx="118.00" cy="258.36" r="2.15" fill="none" stroke="#111" stroke-width="1.35"/>
<circle cx="121.50" cy="257.88" r="2.15" fill="none" stroke="#111" stroke-width="1.35"/>
<circle cx="125.00" cy="257.40" r="2.15" fill="none" stroke="#111" stroke-width="1.35"/>
<circle cx="104.60" cy="256.40" r="2.15" fill="none" stroke="#111" stroke-width="1.35"/>
<circle cx="110.40" cy="256.40" r="2.15" fill="none" stroke="#111" stroke-width="1.35"/>
<circle cx="107.50" cy="255.00" r="2.15" fill="none" stroke="#111" stroke-width="1.35"/>
<circle cx="107.50" cy="258.60" r="2.15" fill="none" stroke="#111" stroke-width="1.35"/>
<circle cx="87.10" cy="284.40" r="2.15" fill="none" stroke="#111" stroke-width="1.35"/>
<circle cx="92.20" cy="286.30" r="2.15" fill="none" stroke="#111" stroke-width="1.35"/>
<circle cx="97.30" cy="287.30" r="2.15" fill="none" stroke="#111" stroke-width="1.35"/>
<circle cx="102.60" cy="288.10" r="2.15" fill="none" stroke="#111" stroke-width="1.35"/>
<circle cx="107.50" cy="290.10" r="2.15" fill="none" stroke="#111" stroke-width="1.35"/>
<circle cx="112.60" cy="288.10" r="2.15" fill="none" stroke="#111" stroke-width="1.35"/>
<circle cx="117.70" cy="287.30" r="2.15" fill="none" stroke="#111" stroke-width="1.35"/>
<circle cx="123.00" cy="285.70" r="2.15" fill="none" stroke="#111" stroke-width="1.35"/>
<circle cx="127.90" cy="283.40" r="2.15" fill="none" stroke="#111" stroke-width="1.35"/>
<circle cx="100.90" cy="292.90" r="2.15" fill="none" stroke="#111" stroke-width="1.35"/>
<circle cx="114.10" cy="292.90" r="2.15" fill="none" stroke="#111" stroke-width="1.35"/>
<circle cx="107.50" cy="299.00" r="2.15" fill="none" stroke="#111" stroke-width="1.35"/>
<circle cx="86.60" cy="261.00" r="2.05" fill="none" stroke="#111" stroke-width="1.3"/>
<circle cx="89.22" cy="261.25" r="2.05" fill="none" stroke="#111" stroke-width="1.3"/>
<circle cx="91.85" cy="261.50" r="2.05" fill="none" stroke="#111" stroke-width="1.3"/>
<circle cx="94.47" cy="261.75" r="2.05" fill="none" stroke="#111" stroke-width="1.3"/>
<circle cx="97.10" cy="262.00" r="2.05" fill="none" stroke="#111" stroke-width="1.3"/>
<circle cx="99.72" cy="262.25" r="2.05" fill="none" stroke="#111" stroke-width="1.3"/>
<circle cx="102.35" cy="262.50" r="2.05" fill="none" stroke="#111" stroke-width="1.3"/>
<circle cx="104.97" cy="262.75" r="2.05" fill="none" stroke="#111" stroke-width="1.3"/>
<circle cx="107.60" cy="263.00" r="2.05" fill="none" stroke="#111" stroke-width="1.3"/>
<circle cx="110.22" cy="262.75" r="2.05" fill="none" stroke="#111" stroke-width="1.3"/>
<circle cx="112.85" cy="262.50" r="2.05" fill="none" stroke="#111" stroke-width="1.3"/>
<circle cx="115.47" cy="262.25" r="2.05" fill="none" stroke="#111" stroke-width="1.3"/>
<circle cx="118.10" cy="262.00" r="2.05" fill="none" stroke="#111" stroke-width="1.3"/>
<circle cx="120.72" cy="261.75" r="2.05" fill="none" stroke="#111" stroke-width="1.3"/>
<circle cx="123.35" cy="261.50" r="2.05" fill="none" stroke="#111" stroke-width="1.3"/>
<circle cx="125.97" cy="261.25" r="2.05" fill="none" stroke="#111" stroke-width="1.3"/>
<circle cx="128.60" cy="261.00" r="2.05" fill="none" stroke="#111" stroke-width="1.3"/>
<circle cx="87.95" cy="262.90" r="2.05" fill="none" stroke="#111" stroke-width="1.3"/>
<circle cx="90.57" cy="263.10" r="2.05" fill="none" stroke="#111" stroke-width="1.3"/>
<circle cx="93.20" cy="263.30" r="2.05" fill="none" stroke="#111" stroke-width="1.3"/>
<circle cx="95.82" cy="263.50" r="2.05" fill="none" stroke="#111" stroke-width="1.3"/>
<circle cx="98.45" cy="263.70" r="2.05" fill="none" stroke="#111" stroke-width="1.3"/>
<circle cx="101.07" cy="263.90" r="2.05" fill="none" stroke="#111" stroke-width="1.3"/>
<circle cx="103.70" cy="264.10" r="2.05" fill="none" stroke="#111" stroke-width="1.3"/>
<circle cx="106.32" cy="264.30" r="2.05" fill="none" stroke="#111" stroke-width="1.3"/>
<circle cx="108.95" cy="264.30" r="2.05" fill="none" stroke="#111" stroke-width="1.3"/>
<circle cx="111.57" cy="264.10" r="2.05" fill="none" stroke="#111" stroke-width="1.3"/>
<circle cx="114.20" cy="263.90" r="2.05" fill="none" stroke="#111" stroke-width="1.3"/>
<circle cx="116.82" cy="263.70" r="2.05" fill="none" stroke="#111" stroke-width="1.3"/>
<circle cx="119.45" cy="263.50" r="2.05" fill="none" stroke="#111" stroke-width="1.3"/>
<circle cx="122.07" cy="263.30" r="2.05" fill="none" stroke="#111" stroke-width="1.3"/>
<circle cx="124.70" cy="263.10" r="2.05" fill="none" stroke="#111" stroke-width="1.3"/>
<circle cx="127.32" cy="262.90" r="2.05" fill="none" stroke="#111" stroke-width="1.3"/>
<circle cx="128.60" cy="262.80" r="2.05" fill="none" stroke="#111" stroke-width="1.3"/>
<circle cx="86.60" cy="268.30" r="2.05" fill="none" stroke="#111" stroke-width="1.3"/>
<circle cx="89.22" cy="268.84" r="2.05" fill="none" stroke="#111" stroke-width="1.3"/>
<circle cx="91.85" cy="269.38" r="2.05" fill="none" stroke="#111" stroke-width="1.3"/>
<circle cx="94.47" cy="269.91" r="2.05" fill="none" stroke="#111" stroke-width="1.3"/>
<circle cx="97.10" cy="270.45" r="2.05" fill="none" stroke="#111" stroke-width="1.3"/>
<circle cx="99.72" cy="270.99" r="2.05" fill="none" stroke="#111" stroke-width="1.3"/>
<circle cx="102.35" cy="271.53" r="2.05" fill="none" stroke="#111" stroke-width="1.3"/>
<circle cx="104.97" cy="272.06" r="2.05" fill="none" stroke="#111" stroke-width="1.3"/>
<circle cx="107.60" cy="272.60" r="2.05" fill="none" stroke="#111" stroke-width="1.3"/>
<circle cx="110.22" cy="272.06" r="2.05" fill="none" stroke="#111" stroke-width="1.3"/>
<circle cx="112.85" cy="271.53" r="2.05" fill="none" stroke="#111" stroke-width="1.3"/>
<circle cx="115.47" cy="270.99" r="2.05" fill="none" stroke="#111" stroke-width="1.3"/>
<circle cx="118.10" cy="270.45" r="2.05" fill="none" stroke="#111" stroke-width="1.3"/>
<circle cx="120.72" cy="269.91" r="2.05" fill="none" stroke="#111" stroke-width="1.3"/>
<circle cx="123.35" cy="269.38" r="2.05" fill="none" stroke="#111" stroke-width="1.3"/>
<circle cx="125.97" cy="268.84" r="2.05" fill="none" stroke="#111" stroke-width="1.3"/>
<circle cx="128.60" cy="268.30" r="2.05" fill="none" stroke="#111" stroke-width="1.3"/>
<circle cx="87.00" cy="276.20" r="2.05" fill="none" stroke="#111" stroke-width="1.3"/>
<circle cx="89.75" cy="276.79" r="2.05" fill="none" stroke="#111" stroke-width="1.3"/>
<circle cx="92.49" cy="277.37" r="2.05" fill="none" stroke="#111" stroke-width="1.3"/>
<circle cx="95.24" cy="277.96" r="2.05" fill="none" stroke="#111" stroke-width="1.3"/>
<circle cx="97.99" cy="278.55" r="2.05" fill="none" stroke="#111" stroke-width="1.3"/>
<circle cx="100.73" cy="279.13" r="2.05" fill="none" stroke="#111" stroke-width="1.3"/>
<circle cx="103.48" cy="279.72" r="2.05" fill="none" stroke="#111" stroke-width="1.3"/>
<circle cx="106.23" cy="280.31" r="2.05" fill="none" stroke="#111" stroke-width="1.3"/>
<circle cx="108.97" cy="280.31" r="2.05" fill="none" stroke="#111" stroke-width="1.3"/>
<circle cx="111.72" cy="279.72" r="2.05" fill="none" stroke="#111" stroke-width="1.3"/>
<circle cx="114.47" cy="279.13" r="2.05" fill="none" stroke="#111" stroke-width="1.3"/>
<circle cx="117.21" cy="278.55" r="2.05" fill="none" stroke="#111" stroke-width="1.3"/>
<circle cx="119.96" cy="277.96" r="2.05" fill="none" stroke="#111" stroke-width="1.3"/>
<circle cx="122.71" cy="277.37" r="2.05" fill="none" stroke="#111" stroke-width="1.3"/>
<circle cx="125.45" cy="276.79" r="2.05" fill="none" stroke="#111" stroke-width="1.3"/>
<circle cx="128.20" cy="276.20" r="2.05" fill="none" stroke="#111" stroke-width="1.3"/>
<line x1="154.30" y1="254.90" x2="200.70" y2="254.90" stroke="#f02828" stroke-width="1.4"/>
<line x1="177.50" y1="241.80" x2="177.50" y2="267.80" stroke="#f02828" stroke-width="1.4"/>
<line x1="166.25" y1="241.80" x2="188.75" y2="241.80" stroke="#f02828" stroke-width="1.4"/>
<line x1="166.25" y1="267.80" x2="188.75" y2="267.80" stroke="#f02828" stroke-width="1.4"/>
<rect x="172.05" y="229.55" width="4.5" height="4.5" fill="none" stroke="#111" stroke-width="1.45"/>
<rect x="175.45" y="227.75" width="4.5" height="4.5" fill="none" stroke="#111" stroke-width="1.45"/>
<rect x="178.65" y="234.85" width="4.5" height="4.5" fill="none" stroke="#111" stroke-width="1.45"/>
<rect x="168.35" y="242.25" width="4.5" height="4.5" fill="none" stroke="#111" stroke-width="1.45"/>
<rect x="175.05" y="242.65" width="4.5" height="4.5" fill="none" stroke="#111" stroke-width="1.45"/>
<rect x="181.65" y="242.25" width="4.5" height="4.5" fill="none" stroke="#111" stroke-width="1.45"/>
<rect x="188.25" y="244.95" width="4.5" height="4.5" fill="none" stroke="#111" stroke-width="1.45"/>
<rect x="158.35" y="250.15" width="4.5" height="4.5" fill="none" stroke="#111" stroke-width="1.45"/>
<rect x="162.25" y="253.35" width="4.5" height="4.5" fill="none" stroke="#111" stroke-width="1.45"/>
<rect x="168.65" y="250.35" width="4.5" height="4.5" fill="none" stroke="#111" stroke-width="1.45"/>
<rect x="175.05" y="250.65" width="4.5" height="4.5" fill="none" stroke="#111" stroke-width="1.45"/>
<rect x="181.65" y="250.65" width="4.5" height="4.5" fill="none" stroke="#111" stroke-width="1.45"/>
<rect x="188.25" y="255.85" width="4.5" height="4.5" fill="none" stroke="#111" stroke-width="1.45"/>
<rect x="168.55" y="257.75" width="4.5" height="4.5" fill="none" stroke="#111" stroke-width="1.45"/>
<rect x="175.25" y="259.35" width="4.5" height="4.5" fill="none" stroke="#111" stroke-width="1.45"/>
<rect x="181.75" y="259.35" width="4.5" height="4.5" fill="none" stroke="#111" stroke-width="1.45"/>
<rect x="165.35" y="262.15" width="4.5" height="4.5" fill="none" stroke="#111" stroke-width="1.45"/>
<rect x="188.25" y="263.85" width="4.5" height="4.5" fill="none" stroke="#111" stroke-width="1.45"/>
<rect x="171.95" y="267.15" width="4.5" height="4.5" fill="none" stroke="#111" stroke-width="1.45"/>
<rect x="181.95" y="267.15" width="4.5" height="4.5" fill="none" stroke="#111" stroke-width="1.45"/>
<rect x="178.75" y="271.35" width="4.5" height="4.5" fill="none" stroke="#111" stroke-width="1.45"/>
<rect x="172.05" y="275.05" width="4.5" height="4.5" fill="none" stroke="#111" stroke-width="1.45"/>
<line x1="283.80" y1="191.10" x2="283.80" y2="275.30" stroke="#333" stroke-width="1.2"/>
<line x1="282.00" y1="275.30" x2="343.50" y2="275.30" stroke="#333" stroke-width="1.2"/>
<line x1="281.00" y1="208.50" x2="283.80" y2="208.50" stroke="#333" stroke-width="1.1"/>
<text x="280.60" y="210.40" font-size="5.2" text-anchor="end" font-weight="bold" fill="#333" letter-spacing="0.15" stroke="#333" stroke-width="0.3">15%</text>
<line x1="281.00" y1="232.30" x2="283.80" y2="232.30" stroke="#333" stroke-width="1.1"/>
<text x="280.60" y="234.20" font-size="5.2" text-anchor="end" font-weight="bold" fill="#333" letter-spacing="0.15" stroke="#333" stroke-width="0.3">10%</text>
<line x1="281.00" y1="254.10" x2="283.80" y2="254.10" stroke="#333" stroke-width="1.1"/>
<text x="280.60" y="256.00" font-size="5.2" text-anchor="end" font-weight="bold" fill="#333" letter-spacing="0.15" stroke="#333" stroke-width="0.3">5%</text>
<rect x="286.80" y="198.00" width="5.90" height="76.80" fill="#ff1010"/>
<rect x="295.20" y="250.90" width="5.90" height="23.90" fill="#ff1010"/>
<rect x="295.20" y="268.10" width="5.90" height="6.70" fill="#1010ff"/>
<rect x="303.50" y="255.40" width="5.90" height="19.40" fill="#ff1010"/>
<rect x="311.60" y="264.20" width="5.90" height="10.60" fill="#ff1010"/>
<rect x="319.90" y="269.00" width="5.90" height="5.80" fill="#ff1010"/>
<rect x="319.90" y="272.90" width="5.90" height="1.90" fill="#1010ff"/>
<rect x="327.90" y="269.60" width="5.90" height="5.20" fill="#ff1010"/>
<rect x="327.90" y="273.70" width="5.90" height="1.10" fill="#1010ff"/>
<rect x="336.10" y="269.60" width="5.90" height="5.20" fill="#ff1010"/>
<rect x="336.10" y="273.10" width="5.90" height="1.70" fill="#1010ff"/>
<rect x="308.90" y="194.60" width="5.80" height="4.80" fill="#ff1010"/>
<rect x="308.90" y="206.30" width="5.80" height="4.80" fill="#1010ff"/>
<text x="317.60" y="199.20" font-size="6.3" text-anchor="start" font-weight="normal" fill="#444" stroke="#444" stroke-width="0.15">Amplification</text>
<text x="317.60" y="209.90" font-size="6.5" text-anchor="start" font-weight="normal" fill="#444" stroke="#444" stroke-width="0.15">Deletion</text>
<text x="0" y="0" font-size="6.3" text-anchor="start" font-weight="normal" fill="#333" stroke="#333" stroke-width="0.3" transform="translate(263.40 269.00) rotate(-90) scale(1.16 1.0)">Alteration Frequency</text>
<text x="0" y="0" font-size="6.0" text-anchor="start" font-weight="normal" fill="#333" stroke="#333" stroke-width="0.3" transform="translate(288.50 278.60) rotate(90) scale(1.0 1.0)">Trento/Cornell/Broad 2016</text>
<text x="0" y="0" font-size="6.0" text-anchor="start" font-weight="normal" fill="#333" stroke="#333" stroke-width="0.3" transform="translate(296.60 278.60) rotate(90) scale(1.0 1.0)">FHCRC 2016</text>
<text x="0" y="0" font-size="6.0" text-anchor="start" font-weight="normal" fill="#333" stroke="#333" stroke-width="0.3" transform="translate(304.70 278.60) rotate(90) scale(1.0 1.0)">EurUrol</text>
<text x="0" y="0" font-size="6.0" text-anchor="start" font-weight="normal" fill="#333" stroke="#333" stroke-width="0.3" transform="translate(312.80 278.60) rotate(90) scale(1.0 1.0)">SU2C</text>
<text x="0" y="0" font-size="6.0" text-anchor="start" font-weight="normal" fill="#333" stroke="#333" stroke-width="0.3" transform="translate(320.70 278.60) rotate(90) scale(1.0 1.0)">TCGA 2015</text>
<text x="0" y="0" font-size="6.0" text-anchor="start" font-weight="normal" fill="#333" stroke="#333" stroke-width="0.3" transform="translate(328.40 278.60) rotate(90) scale(1.0 1.0)">TCGA PanCan</text>
<text x="0" y="0" font-size="6.0" text-anchor="start" font-weight="normal" fill="#333" stroke="#333" stroke-width="0.3" transform="translate(336.60 278.60) rotate(90) scale(1.0 1.0)">TCGA</text>
<line x1="424.40" y1="200.70" x2="424.40" y2="292.00" stroke="#1a1a1a" stroke-width="1.3"/>
<line x1="424.40" y1="292.00" x2="543.40" y2="292.00" stroke="#1a1a1a" stroke-width="1.3"/>
<line x1="422.60" y1="200.70" x2="424.40" y2="200.70" stroke="#1a1a1a" stroke-width="1.2"/>
<text x="420.60" y="202.90" font-size="6.3" text-anchor="end" font-weight="bold" fill="#111" stroke="#111" stroke-width="0.3">4</text>
<line x1="422.60" y1="223.40" x2="424.40" y2="223.40" stroke="#1a1a1a" stroke-width="1.2"/>
<text x="420.60" y="225.60" font-size="6.3" text-anchor="end" font-weight="bold" fill="#111" stroke="#111" stroke-width="0.3">2</text>
<line x1="422.60" y1="246.10" x2="424.40" y2="246.10" stroke="#1a1a1a" stroke-width="1.2"/>
<text x="420.60" y="248.30" font-size="6.3" text-anchor="end" font-weight="bold" fill="#111" stroke="#111" stroke-width="0.3">0</text>
<line x1="422.60" y1="268.80" x2="424.40" y2="268.80" stroke="#1a1a1a" stroke-width="1.2"/>
<text x="420.60" y="271.00" font-size="6.3" text-anchor="end" font-weight="bold" fill="#111" stroke="#111" stroke-width="0.3">-2</text>
<line x1="422.60" y1="291.50" x2="424.40" y2="291.50" stroke="#1a1a1a" stroke-width="1.2"/>
<text x="420.60" y="293.70" font-size="6.3" text-anchor="end" font-weight="bold" fill="#111" stroke="#111" stroke-width="0.3">-4</text>
<line x1="424.80" y1="292.00" x2="424.80" y2="294.60" stroke="#1a1a1a" stroke-width="1.2"/>
<text x="0" y="0" font-size="6.4" text-anchor="middle" font-weight="bold" fill="#111" stroke="#111" stroke-width="0.3" transform="translate(425.00 303.70) rotate(0) scale(1.0 1.15)">-2</text>
<line x1="444.60" y1="292.00" x2="444.60" y2="294.60" stroke="#1a1a1a" stroke-width="1.2"/>
<text x="0" y="0" font-size="6.4" text-anchor="middle" font-weight="bold" fill="#111" stroke="#111" stroke-width="0.3" transform="translate(444.80 303.70) rotate(0) scale(1.0 1.15)">-1</text>
<line x1="464.10" y1="292.00" x2="464.10" y2="294.60" stroke="#1a1a1a" stroke-width="1.2"/>
<text x="0" y="0" font-size="6.4" text-anchor="middle" font-weight="bold" fill="#111" stroke="#111" stroke-width="0.3" transform="translate(464.30 303.70) rotate(0) scale(1.0 1.15)">0</text>
<line x1="484.10" y1="292.00" x2="484.10" y2="294.60" stroke="#1a1a1a" stroke-width="1.2"/>
<text x="0" y="0" font-size="6.4" text-anchor="middle" font-weight="bold" fill="#111" stroke="#111" stroke-width="0.3" transform="translate(484.30 303.70) rotate(0) scale(1.0 1.15)">1</text>
<line x1="503.70" y1="292.00" x2="503.70" y2="294.60" stroke="#1a1a1a" stroke-width="1.2"/>
<text x="0" y="0" font-size="6.4" text-anchor="middle" font-weight="bold" fill="#111" stroke="#111" stroke-width="0.3" transform="translate(503.90 303.70) rotate(0) scale(1.0 1.15)">2</text>
<line x1="523.50" y1="292.00" x2="523.50" y2="294.60" stroke="#1a1a1a" stroke-width="1.2"/>
<text x="0" y="0" font-size="6.4" text-anchor="middle" font-weight="bold" fill="#111" stroke="#111" stroke-width="0.3" transform="translate(523.70 303.70) rotate(0) scale(1.0 1.15)">3</text>
<line x1="543.20" y1="292.00" x2="543.20" y2="294.60" stroke="#1a1a1a" stroke-width="1.2"/>
<text x="0" y="0" font-size="6.4" text-anchor="middle" font-weight="bold" fill="#111" stroke="#111" stroke-width="0.3" transform="translate(543.40 303.70) rotate(0) scale(1.0 1.15)">4</text>
<text x="0" y="0" transform="translate(444.0 316.4) scale(1.0 1.1)" font-size="8.0" fill="#111" stroke="#111" stroke-width="0.3">Log<tspan font-size="5.4" dy="2">2</tspan><tspan dy="-2"> copy-number value</tspan></text>
<text x="426.00" y="205.00" font-size="6.2" text-anchor="start" font-weight="normal" fill="#111" stroke="#111" stroke-width="0.3">r = 0.33</text>
<text x="426.00" y="214.30" font-size="6.2" text-anchor="start" font-weight="normal" fill="#111" stroke="#111" stroke-width="0.3">p = 4.24e-5</text>
<text x="0" y="0" font-size="8.2" text-anchor="start" font-weight="normal" fill="#111" stroke="#111" stroke-width="0.3" transform="translate(411.00 304.30) rotate(-90) scale(1.135 1.0)">mRNA Expression z-score</text>
<circle cx="485.00" cy="211.80" r="1.65" fill="#000"/>
<circle cx="506.00" cy="213.30" r="1.65" fill="#000"/>
<circle cx="492.50" cy="219.50" r="1.65" fill="#000"/>
<circle cx="528.20" cy="227.60" r="1.65" fill="#000"/>
<circle cx="497.60" cy="248.10" r="1.65" fill="#000"/>
<circle cx="480.50" cy="283.60" r="1.65" fill="#000"/>
<circle cx="470.80" cy="278.60" r="1.65" fill="#000"/>
<circle cx="477.10" cy="221.30" r="1.65" fill="#000"/>
<circle cx="462.40" cy="222.60" r="1.65" fill="#000"/>
<circle cx="465.60" cy="222.60" r="1.65" fill="#000"/>
<circle cx="467.80" cy="221.80" r="1.65" fill="#000"/>
<circle cx="467.80" cy="223.70" r="1.65" fill="#000"/>
<circle cx="458.80" cy="225.40" r="1.65" fill="#000"/>
<circle cx="462.90" cy="226.80" r="1.65" fill="#000"/>
<circle cx="464.00" cy="229.00" r="1.65" fill="#000"/>
<circle cx="474.90" cy="227.50" r="1.65" fill="#000"/>
<circle cx="473.30" cy="229.20" r="1.65" fill="#000"/>
<circle cx="478.70" cy="229.20" r="1.65" fill="#000"/>
<circle cx="478.20" cy="230.80" r="1.65" fill="#000"/>
<circle cx="483.60" cy="225.70" r="1.65" fill="#000"/>
<circle cx="484.20" cy="228.60" r="1.65" fill="#000"/>
<circle cx="483.10" cy="229.70" r="1.65" fill="#000"/>
<circle cx="487.40" cy="235.20" r="1.65" fill="#000"/>
<circle cx="489.10" cy="235.20" r="1.65" fill="#000"/>
<circle cx="472.20" cy="232.40" r="1.65" fill="#000"/>
<circle cx="472.70" cy="234.60" r="1.65" fill="#000"/>
<circle cx="471.60" cy="237.90" r="1.65" fill="#000"/>
<circle cx="462.90" cy="232.40" r="1.65" fill="#000"/>
<circle cx="461.80" cy="234.60" r="1.65" fill="#000"/>
<circle cx="454.20" cy="236.30" r="1.65" fill="#000"/>
<circle cx="455.80" cy="238.40" r="1.65" fill="#000"/>
<circle cx="457.40" cy="241.20" r="1.65" fill="#000"/>
<circle cx="481.40" cy="244.40" r="1.65" fill="#000"/>
<circle cx="477.10" cy="240.60" r="1.65" fill="#000"/>
<circle cx="448.20" cy="247.70" r="1.65" fill="#000"/>
<circle cx="443.80" cy="252.90" r="1.65" fill="#000"/>
<circle cx="446.50" cy="255.50" r="1.65" fill="#000"/>
<circle cx="444.90" cy="259.40" r="1.65" fill="#000"/>
<circle cx="454.20" cy="244.40" r="1.65" fill="#000"/>
<circle cx="454.70" cy="248.20" r="1.65" fill="#000"/>
<circle cx="456.40" cy="250.40" r="1.65" fill="#000"/>
<circle cx="454.70" cy="255.30" r="1.65" fill="#000"/>
<circle cx="454.20" cy="261.60" r="1.65" fill="#000"/>
<circle cx="454.00" cy="272.50" r="1.65" fill="#000"/>
<circle cx="461.30" cy="267.50" r="1.65" fill="#000"/>
<circle cx="465.30" cy="272.70" r="1.65" fill="#000"/>
<circle cx="468.40" cy="269.20" r="1.65" fill="#000"/>
<circle cx="464.50" cy="266.20" r="1.65" fill="#000"/>
<circle cx="463.40" cy="262.90" r="1.65" fill="#000"/>
<circle cx="460.20" cy="260.20" r="1.65" fill="#000"/>
<circle cx="478.20" cy="258.50" r="1.65" fill="#000"/>
<circle cx="478.70" cy="262.40" r="1.65" fill="#000"/>
<circle cx="482.00" cy="244.90" r="1.65" fill="#000"/>
<circle cx="471.60" cy="256.90" r="1.65" fill="#000"/>
<circle cx="474.90" cy="254.20" r="1.65" fill="#000"/>
<circle cx="477.60" cy="249.80" r="1.65" fill="#000"/>
<circle cx="466.70" cy="259.60" r="1.65" fill="#000"/>
<circle cx="458.50" cy="225.60" r="1.65" fill="#000"/>
<circle cx="463.00" cy="227.30" r="1.65" fill="#000"/>
<circle cx="464.20" cy="229.50" r="1.65" fill="#000"/>
<circle cx="473.90" cy="228.40" r="1.65" fill="#000"/>
<circle cx="477.80" cy="229.50" r="1.65" fill="#000"/>
<circle cx="484.10" cy="226.70" r="1.65" fill="#000"/>
<circle cx="483.50" cy="229.50" r="1.65" fill="#000"/>
<circle cx="487.50" cy="235.20" r="1.65" fill="#000"/>
<circle cx="489.20" cy="235.80" r="1.65" fill="#000"/>
<circle cx="471.60" cy="233.50" r="1.65" fill="#000"/>
<circle cx="472.20" cy="236.40" r="1.65" fill="#000"/>
<circle cx="471.60" cy="239.20" r="1.65" fill="#000"/>
<circle cx="462.50" cy="233.00" r="1.65" fill="#000"/>
<circle cx="461.40" cy="235.80" r="1.65" fill="#000"/>
<circle cx="463.60" cy="236.40" r="1.65" fill="#000"/>
<circle cx="460.20" cy="238.60" r="1.65" fill="#000"/>
<circle cx="463.00" cy="239.20" r="1.65" fill="#000"/>
<circle cx="465.30" cy="239.80" r="1.65" fill="#000"/>
<circle cx="454.50" cy="236.40" r="1.65" fill="#000"/>
<circle cx="455.70" cy="239.20" r="1.65" fill="#000"/>
<circle cx="456.80" cy="242.00" r="1.65" fill="#000"/>
<circle cx="454.50" cy="244.90" r="1.65" fill="#000"/>
<circle cx="455.10" cy="248.30" r="1.65" fill="#000"/>
<circle cx="456.30" cy="249.40" r="1.65" fill="#000"/>
<circle cx="454.50" cy="255.10" r="1.65" fill="#000"/>
<circle cx="454.50" cy="261.40" r="1.65" fill="#000"/>
<circle cx="459.70" cy="242.00" r="1.65" fill="#000"/>
<circle cx="461.90" cy="243.20" r="1.65" fill="#000"/>
<circle cx="464.80" cy="242.60" r="1.65" fill="#000"/>
<circle cx="467.00" cy="243.20" r="1.65" fill="#000"/>
<circle cx="469.30" cy="242.00" r="1.65" fill="#000"/>
<circle cx="472.70" cy="242.00" r="1.65" fill="#000"/>
<circle cx="476.10" cy="240.90" r="1.65" fill="#000"/>
<circle cx="477.80" cy="242.00" r="1.65" fill="#000"/>
<circle cx="481.80" cy="244.90" r="1.65" fill="#000"/>
<circle cx="460.20" cy="245.50" r="1.65" fill="#000"/>
<circle cx="462.50" cy="246.00" r="1.65" fill="#000"/>
<circle cx="465.30" cy="245.50" r="1.65" fill="#000"/>
<circle cx="468.20" cy="246.60" r="1.65" fill="#000"/>
<circle cx="471.60" cy="246.00" r="1.65" fill="#000"/>
<circle cx="474.40" cy="245.50" r="1.65" fill="#000"/>
<circle cx="477.30" cy="244.30" r="1.65" fill="#000"/>
<circle cx="459.70" cy="248.90" r="1.65" fill="#000"/>
<circle cx="462.50" cy="249.40" r="1.65" fill="#000"/>
<circle cx="465.30" cy="248.90" r="1.65" fill="#000"/>
<circle cx="468.20" cy="250.00" r="1.65" fill="#000"/>
<circle cx="471.60" cy="248.90" r="1.65" fill="#000"/>
<circle cx="475.00" cy="249.40" r="1.65" fill="#000"/>
<circle cx="477.30" cy="247.70" r="1.65" fill="#000"/>
<circle cx="460.20" cy="252.30" r="1.65" fill="#000"/>
<circle cx="463.10" cy="252.80" r="1.65" fill="#000"/>
<circle cx="465.90" cy="252.30" r="1.65" fill="#000"/>
<circle cx="471.00" cy="252.30" r="1.65" fill="#000"/>
<circle cx="474.40" cy="251.70" r="1.65" fill="#000"/>
<circle cx="476.70" cy="251.10" r="1.65" fill="#000"/>
<circle cx="460.80" cy="255.10" r="1.65" fill="#000"/>
<circle cx="463.60" cy="255.70" r="1.65" fill="#000"/>
<circle cx="467.00" cy="255.10" r="1.65" fill="#000"/>
<circle cx="470.50" cy="255.70" r="1.65" fill="#000"/>
<circle cx="473.30" cy="254.50" r="1.65" fill="#000"/>
<circle cx="460.20" cy="259.10" r="1.65" fill="#000"/>
<circle cx="463.10" cy="260.20" r="1.65" fill="#000"/>
<circle cx="468.20" cy="259.10" r="1.65" fill="#000"/>
<circle cx="471.00" cy="256.80" r="1.65" fill="#000"/>
<circle cx="462.50" cy="263.10" r="1.65" fill="#000"/>
<circle cx="464.80" cy="263.60" r="1.65" fill="#000"/>
<circle cx="477.80" cy="258.50" r="1.65" fill="#000"/>
<circle cx="478.40" cy="261.90" r="1.65" fill="#000"/>
<circle cx="476.80" cy="221.40" r="1.65" fill="#000"/>
<circle cx="462.30" cy="222.50" r="1.65" fill="#000"/>
<circle cx="465.90" cy="222.70" r="1.65" fill="#000"/>
<circle cx="467.70" cy="221.40" r="1.65" fill="#000"/>
<circle cx="468.20" cy="224.10" r="1.65" fill="#000"/>
<circle cx="458.90" cy="225.20" r="1.65" fill="#000"/>
<circle cx="462.70" cy="226.80" r="1.65" fill="#000"/>
<circle cx="464.10" cy="228.80" r="1.65" fill="#000"/>
<circle cx="463.20" cy="232.30" r="1.65" fill="#000"/>
<circle cx="474.50" cy="227.70" r="1.65" fill="#000"/>
<circle cx="473.60" cy="229.10" r="1.65" fill="#000"/>
<circle cx="472.30" cy="232.30" r="1.65" fill="#000"/>
<circle cx="479.10" cy="229.10" r="1.65" fill="#000"/>
<circle cx="478.20" cy="230.50" r="1.65" fill="#000"/>
<circle cx="483.60" cy="225.90" r="1.65" fill="#000"/>
<circle cx="484.10" cy="228.20" r="1.65" fill="#000"/>
<circle cx="483.20" cy="229.50" r="1.65" fill="#000"/>
<circle cx="488.60" cy="234.50" r="1.65" fill="#000"/>
<circle cx="463.23" cy="250.34" r="1.65" fill="#000"/>
<circle cx="463.32" cy="244.14" r="1.65" fill="#000"/>
<circle cx="461.21" cy="244.90" r="1.65" fill="#000"/>
<circle cx="467.34" cy="249.68" r="1.65" fill="#000"/>
<circle cx="467.11" cy="248.37" r="1.65" fill="#000"/>
<circle cx="465.18" cy="247.89" r="1.65" fill="#000"/>
<circle cx="459.00" cy="252.91" r="1.65" fill="#000"/>
<circle cx="465.52" cy="250.24" r="1.65" fill="#000"/>
<circle cx="458.93" cy="233.42" r="1.65" fill="#000"/>
<circle cx="461.33" cy="242.99" r="1.65" fill="#000"/>
<circle cx="464.92" cy="246.16" r="1.65" fill="#000"/>
<circle cx="465.56" cy="241.68" r="1.65" fill="#000"/>
<circle cx="464.93" cy="249.46" r="1.65" fill="#000"/>
<circle cx="462.02" cy="259.38" r="1.65" fill="#000"/>
<circle cx="465.67" cy="255.48" r="1.65" fill="#000"/>
<circle cx="462.14" cy="240.95" r="1.65" fill="#000"/>
<circle cx="462.97" cy="245.70" r="1.65" fill="#000"/>
<circle cx="465.90" cy="248.36" r="1.65" fill="#000"/>
<circle cx="462.66" cy="239.32" r="1.65" fill="#000"/>
<circle cx="462.44" cy="255.66" r="1.65" fill="#000"/>
<circle cx="461.58" cy="248.34" r="1.65" fill="#000"/>
<circle cx="465.28" cy="235.33" r="1.65" fill="#000"/>
<circle cx="464.15" cy="256.30" r="1.65" fill="#000"/>
<circle cx="457.96" cy="244.09" r="1.65" fill="#000"/>
<circle cx="463.68" cy="240.37" r="1.65" fill="#000"/>
<circle cx="465.49" cy="246.03" r="1.65" fill="#000"/>
<circle cx="459.61" cy="252.71" r="1.65" fill="#000"/>
<circle cx="466.01" cy="253.59" r="1.65" fill="#000"/>
<circle cx="468.32" cy="249.22" r="1.65" fill="#000"/>
<circle cx="464.36" cy="236.76" r="1.65" fill="#000"/>
<circle cx="465.85" cy="241.91" r="1.65" fill="#000"/>
<circle cx="462.64" cy="237.01" r="1.65" fill="#000"/>
<circle cx="461.10" cy="242.52" r="1.65" fill="#000"/>
<circle cx="467.87" cy="231.26" r="1.65" fill="#000"/>
<circle cx="459.63" cy="248.30" r="1.65" fill="#000"/>
<circle cx="468.33" cy="250.84" r="1.65" fill="#000"/>
<circle cx="465.07" cy="240.98" r="1.65" fill="#000"/>
<circle cx="460.64" cy="253.83" r="1.65" fill="#000"/>
<circle cx="467.31" cy="247.68" r="1.65" fill="#000"/>
<circle cx="464.74" cy="249.76" r="1.65" fill="#000"/>
<circle cx="468.78" cy="251.14" r="1.65" fill="#000"/>
<circle cx="465.56" cy="250.61" r="1.65" fill="#000"/>
<circle cx="459.30" cy="256.11" r="1.65" fill="#000"/>
<circle cx="466.87" cy="250.47" r="1.65" fill="#000"/>
<circle cx="459.46" cy="241.93" r="1.65" fill="#000"/>
<circle cx="465.65" cy="232.51" r="1.65" fill="#000"/>
<circle cx="463.40" cy="255.16" r="1.65" fill="#000"/>
<circle cx="460.92" cy="259.88" r="1.65" fill="#000"/>
<circle cx="465.01" cy="245.80" r="1.65" fill="#000"/>
<circle cx="464.51" cy="252.20" r="1.65" fill="#000"/>
<circle cx="464.06" cy="256.17" r="1.65" fill="#000"/>
<circle cx="462.34" cy="243.68" r="1.65" fill="#000"/>
<circle cx="466.09" cy="247.21" r="1.65" fill="#000"/>
<circle cx="461.86" cy="254.57" r="1.65" fill="#000"/>
<circle cx="467.02" cy="243.44" r="1.65" fill="#000"/>
<circle cx="460.76" cy="245.92" r="1.65" fill="#000"/>
<circle cx="463.47" cy="244.62" r="1.65" fill="#000"/>
<circle cx="466.89" cy="238.78" r="1.65" fill="#000"/>
<circle cx="466.57" cy="236.85" r="1.65" fill="#000"/>
<circle cx="462.07" cy="252.05" r="1.65" fill="#000"/>
<circle cx="466.28" cy="253.87" r="1.65" fill="#000"/>
<circle cx="464.56" cy="248.14" r="1.65" fill="#000"/>
<circle cx="464.14" cy="251.60" r="1.65" fill="#000"/>
<circle cx="463.41" cy="249.22" r="1.65" fill="#000"/>
<circle cx="465.06" cy="247.01" r="1.65" fill="#000"/>
<circle cx="465.48" cy="251.53" r="1.65" fill="#000"/>
<circle cx="468.22" cy="249.60" r="1.65" fill="#000"/>
<circle cx="462.86" cy="244.02" r="1.65" fill="#000"/>
<circle cx="463.77" cy="254.39" r="1.65" fill="#000"/>
<circle cx="463.06" cy="250.09" r="1.65" fill="#000"/>
<circle cx="461.33" cy="248.95" r="1.65" fill="#000"/>
<circle cx="464.68" cy="248.91" r="1.65" fill="#000"/>
<circle cx="462.85" cy="252.24" r="1.65" fill="#000"/>
<circle cx="464.42" cy="242.82" r="1.65" fill="#000"/>
<circle cx="469.15" cy="249.84" r="1.65" fill="#000"/>
<circle cx="462.58" cy="246.20" r="1.65" fill="#000"/>
<circle cx="463.30" cy="246.50" r="1.65" fill="#000"/>
<circle cx="457.80" cy="243.10" r="1.65" fill="#000"/>
<circle cx="466.02" cy="237.65" r="1.65" fill="#000"/>
<circle cx="463.65" cy="254.63" r="1.65" fill="#000"/>
<circle cx="465.68" cy="258.93" r="1.65" fill="#000"/>
<circle cx="460.06" cy="244.17" r="1.65" fill="#000"/>
<circle cx="463.05" cy="251.99" r="1.65" fill="#000"/>
</svg>
</body></html>
